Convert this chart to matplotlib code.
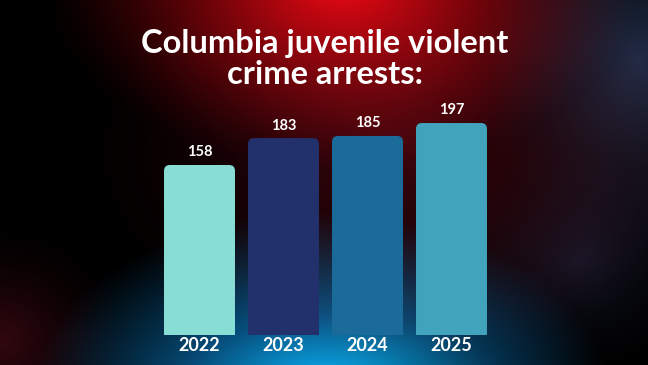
import numpy as np
import matplotlib
matplotlib.use('Agg')
import matplotlib.pyplot as plt
from matplotlib.patches import FancyBboxPatch

# данные
years = ['2022', '2023', '2024', '2025']
arrests = [158, 183, 185, 197]
bar_colors = ['#88ddd4', '#22306b', '#1a6a9a', '#41a3bc']

plt.rcParams['font.family'] = ['Lato', 'DejaVu Sans']

W, H = 648, 365
fig = plt.figure(figsize=(W / 100, H / 100), dpi=100)

# фон: черный с красным свечением сверху и синим снизу
yy, xx = np.mgrid[0:H, 0:W].astype(float)
img = np.zeros((H, W, 3))

def glow(cx, cy, rx, ry, color, power=1.6):
    d = np.sqrt(((xx - cx) / rx) ** 2 + ((yy - cy) / ry) ** 2)
    k = np.clip(1 - d, 0, 1) ** power
    return k[..., None] * np.array(color)[None, None, :]

img += glow(340, -20, 300, 190, [0.92, 0.03, 0.07], 1.3)
img += glow(400, 150, 320, 210, [0.24, 0.02, 0.05], 1.3)
img += glow(320, 400, 290, 190, [0.05, 0.6, 0.95], 1.1)
img += glow(340, 375, 150, 60, [0.0, 0.15, 0.1], 1.0)
img += glow(640, 60, 170, 220, [0.12, 0.17, 0.27], 1.5)
img += glow(0, 340, 130, 120, [0.2, 0.03, 0.06], 1.5)
img += glow(580, 260, 140, 120, [0.07, 0.08, 0.14], 1.5)
img = np.clip(img, 0, 1)

bg = fig.add_axes([0, 0, 1, 1])
bg.imshow(img, aspect='auto', extent=[0, W, H, 0])
bg.axis('off')

# оси для столбцов
px_per_unit = 1.076
ax_left, ax_right = 157.5, 493.5
ax_bottom = 335
ymax = 240
ax_top = ax_bottom - ymax * px_per_unit
ax = fig.add_axes([ax_left / W, (H - ax_bottom) / H,
                   (ax_right - ax_left) / W, (ax_bottom - ax_top) / H])
ax.set_xlim(-0.5, 3.5)
ax.set_ylim(0, ymax)
ax.axis('off')

x = np.arange(len(years))
bars = ax.bar(x, arrests, width=0.845, color=bar_colors)

# скругляем верхние углы
aspect = 84 / px_per_unit
for i, (b, c) in enumerate(zip(bars, bar_colors)):
    b.set_visible(False)
    p = FancyBboxPatch((b.get_x(), -20), b.get_width(), b.get_height() + 20,
                       boxstyle='round,pad=0,rounding_size=0.07',
                       mutation_aspect=aspect, facecolor=c, edgecolor='none')
    ax.add_patch(p)
    ax.annotate(str(int(b.get_height())), (b.get_x() + b.get_width() / 2, b.get_height()),
                xytext=(0, 4), textcoords='offset points', ha='center', va='bottom',
                color='white', fontsize=10.5, fontweight='bold')
    ax.text(b.get_x() + b.get_width() / 2, -9.5, years[i],
            ha='center', va='center', color='white', fontsize=13, fontweight='bold')

fig.text(325 / W, 1 - 59 / H, 'Columbia juvenile violent\ncrime arrests:',
         ha='center', va='center', color='white', fontsize=23.5, fontweight='bold',
         linespacing=1.08)

fig.savefig('out.png', dpi=100)
